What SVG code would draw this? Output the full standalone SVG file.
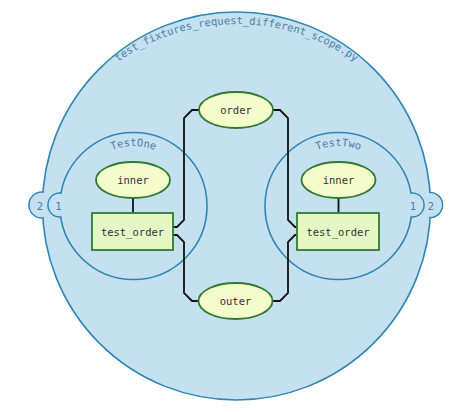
<svg xmlns="http://www.w3.org/2000/svg" width="474" height="412" viewBox="0 0 474 412">
<style>
.scope{fill:#c5e0ee;stroke:#2f86b6;stroke-width:1.6}
.tab{fill:#c5e0ee;stroke:#2f86b6;stroke-width:1.6}
.cover{fill:#c5e0ee;stroke:none}
.lbl{font-family:"DejaVu Sans Mono","Liberation Mono",monospace;font-size:10.5px;fill:#4a80a6}
.tabt{font-family:"DejaVu Sans Mono","Liberation Mono",monospace;font-size:10.5px;fill:#4a80a6;text-anchor:middle;dominant-baseline:central}
.fx{fill:#f4fccc;stroke:#2e7a32;stroke-width:1.8}
.tst{fill:#e6f7c6;stroke:#2e7a32;stroke-width:1.8}
.nt{font-family:"DejaVu Sans Mono","Liberation Mono",monospace;font-size:10.5px;fill:#333;text-anchor:middle;dominant-baseline:central}
.conn{fill:none;stroke:#111;stroke-width:1.8}
</style>
<defs>
<path id="arcBig" d="M30.5,230 A206,206 0 0 1 442.5,230"/>
<path id="arcOne" d="M73.5,206 A60,60 0 0 1 193.5,206"/>
<path id="arcTwo" d="M278.5,206 A60,60 0 0 1 398.5,206"/>
</defs>
<g id="module">
<circle class="tab" cx="42" cy="205" r="13"/>
<circle class="tab" cx="430" cy="205" r="12.5"/>
<circle class="scope" cx="236.5" cy="206" r="194"/>
<circle class="cover" cx="42" cy="205" r="12.2"/>
<circle class="cover" cx="430" cy="205" r="11.7"/>
<text class="lbl"><textPath href="#arcBig" startOffset="50%" text-anchor="middle">test_fixtures_request_different_scope.py</textPath></text>
<text class="tabt" x="40" y="206">2</text>
<text class="tabt" x="431" y="206">2</text>
</g>
<g id="TestOne">
<circle class="tab" cx="60" cy="205" r="12"/>
<circle class="scope" cx="133.5" cy="206" r="73.5"/>
<circle class="cover" cx="60" cy="205" r="11.2"/>
<text class="lbl"><textPath href="#arcOne" startOffset="50%" text-anchor="middle">TestOne</textPath></text>
<text class="tabt" x="58.5" y="206">1</text>
</g>
<g id="TestTwo">
<circle class="tab" cx="412" cy="205" r="12"/>
<circle class="scope" cx="338.5" cy="206" r="73.5"/>
<circle class="cover" cx="412" cy="205" r="11.2"/>
<text class="lbl"><textPath href="#arcTwo" startOffset="50%" text-anchor="middle">TestTwo</textPath></text>
<text class="tabt" x="413" y="206">1</text>
</g>
<g id="connectors">
<path class="conn" d="M199,110 H192 L184,118 V220 L177,227 H173"/>
<path class="conn" d="M173,235 H177 L184,242 V293 L192,301 H198"/>
<path class="conn" d="M273,110 H280 L288,118 V220 L295,227 H297"/>
<path class="conn" d="M297,235 H295 L288,242 V293 L280,301 H273"/>
<path class="conn" d="M133,198 V213"/>
<path class="conn" d="M338.5,198 V213"/>
</g>
<g id="order">
<ellipse class="fx" cx="236" cy="110" rx="37" ry="18"/>
<text class="nt" x="236" y="110">order</text>
</g>
<g id="outer">
<ellipse class="fx" cx="235.5" cy="301" rx="37" ry="18"/>
<text class="nt" x="235.5" y="301">outer</text>
</g>
<g id="inner_one">
<ellipse class="fx" cx="133" cy="180" rx="37" ry="18"/>
<text class="nt" x="133" y="180">inner</text>
</g>
<g id="test_order_one">
<rect class="tst" x="92" y="213" width="81" height="37"/>
<text class="nt" x="132.5" y="231.5">test_order</text>
</g>
<g id="inner_two">
<ellipse class="fx" cx="338.5" cy="180" rx="37" ry="18"/>
<text class="nt" x="338.5" y="180">inner</text>
</g>
<g id="test_order_two">
<rect class="tst" x="297" y="213" width="82" height="37"/>
<text class="nt" x="338" y="231.5">test_order</text>
</g>
</svg>
